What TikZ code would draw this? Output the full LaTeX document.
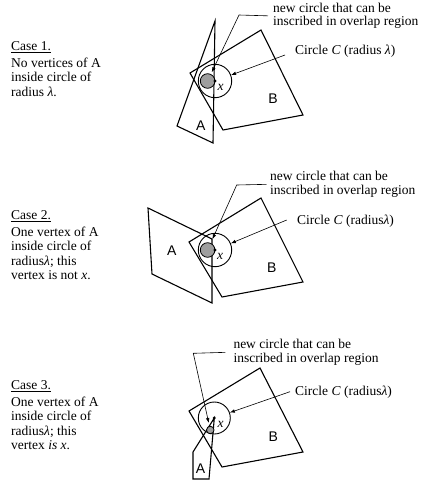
\documentclass[tikz,border=0pt]{standalone}
\usepackage{fontspec}
\setmainfont{Liberation Serif}
\newfontfamily\sansfont{Liberation Sans}
\usetikzlibrary{arrows.meta}

\begin{document}
\begin{tikzpicture}[x=1pt,y=-1pt,
  poly/.style={line width=1.1pt,line join=miter},
  ring/.style={draw,circle,line width=0.9pt,minimum size=33.4pt,inner sep=0pt},
  spot/.style={draw,circle,fill=black!38,line width=0.8pt,inner sep=0pt},
  dot/.style={circle,fill=black,inner sep=0pt,minimum size=3.2pt},
  lead/.style={-{Latex[length=5pt,width=3.6pt]},line width=0.6pt},
  case/.style={anchor=north west,align=left,inner sep=0pt,font=\fontsize{13.5}{14.3}\selectfont},
  note/.style={anchor=north west,align=left,inner sep=0pt,font=\fontsize{13.5}{13.4}\selectfont},
  cname/.style={anchor=base west,inner sep=0pt,font=\fontsize{13.5}{14}\selectfont},
  plbl/.style={font=\sansfont\fontsize{14}{14}\selectfont,inner sep=0pt},
  xlbl/.style={font=\fontsize{13.5}{14}\selectfont\itshape,inner sep=0pt}
]
  \useasboundingbox (0,0) rectangle (427,480);

  % case 1
  \draw[poly] (215,21) -- (177,126) -- (213,143) -- cycle;
  \draw[poly] (261,30) -- (303,115) -- (223,130) -- (190,73) -- cycle;
  \node[ring] (C1) at (215,81) {};
  \node[spot,minimum size=14.6pt] (new1) at (207.6,81) {};
  \node[dot] (x1) at (215,81) {};
  \node[xlbl] (xl1) at (220.5,87.5) {x};
  \node[plbl] (A1) at (200.7,126) {A};
  \node[plbl] (B1) at (273,99) {B};
  \node[case] (case1) at (11,41)
    {\underline{Case 1.}\\[3pt]No vertices of A\\inside circle of\\radius \textit{λ}.};
  \node[note] (note1) at (273,2.8) {new circle that can be\\inscribed in overlap region};
  \node[cname] (cn1) at (295,54) {Circle \textit{C} (radius \textit{λ})};
  \coordinate (k1) at (239,15);
  \coordinate (s1) at (285,55);
  \draw[lead,shorten >=2pt] ([xshift=-5pt]note1.west) -- (k1) -- (new1);
  \draw[lead] (s1) -- (C1);

  % case 2
  \draw[poly] (148,208) -- (152,274) -- (212,303) -- (212,239) -- cycle;
  \draw[poly] (261,198) -- (303,282) -- (222,297) -- (189,242) -- cycle;
  \node[ring] (C2) at (215,250) {};
  \node[spot,minimum size=14.6pt] (new2) at (207.6,250) {};
  \node[dot] (x2) at (215,250) {};
  \node[xlbl] (xl2) at (220,256) {x};
  \node[plbl] (A2) at (171.7,250.7) {A};
  \node[plbl] (B2) at (271.7,267.3) {B};
  \node[case] (case2) at (11,210)
    {\underline{Case 2.}\\[3pt]One vertex of A\\inside circle of\\radius\textit{λ}; this\\vertex is not \textit{x}.};
  \node[note] (note2) at (270,171.3) {new circle that can be\\inscribed in overlap region};
  \node[cname] (cn2) at (297,224) {Circle \textit{C} (radius\textit{λ})};
  \coordinate (k2) at (236.7,185);
  \coordinate (s2) at (286.7,220);
  \draw[lead,shorten >=4pt] ([xshift=-3.5pt]note2.west) -- (k2) -- (new2);
  \draw[lead] (s2) -- (C2);

  % case 3
  \draw[poly] (214.3,418) -- (193,452) -- (193,479) -- (209,479) -- cycle;
  \draw[poly] (260,368) -- (303,452) -- (222,467) -- (189,411) -- cycle;
  \node[ring,minimum size=32pt] (C3) at (214.3,418) {};
  \node[spot,minimum size=7.5pt] (new3) at (210.3,430) {};
  \node[dot] (x3) at (214.3,418) {};
  \node[xlbl] (xl3) at (220.5,424) {x};
  \node[plbl] (A3) at (200.5,469) {A};
  \node[plbl] (B3) at (273.3,436.7) {B};
  \node[case] (case3) at (11,380)
    {\underline{Case 3.}\\[3pt]One vertex of A\\inside circle of\\radius\textit{λ}; this\\vertex \textit{is x}.};
  \node[note] (note3) at (233.3,339.3) {new circle that can be\\inscribed in overlap region};
  \node[cname] (cn3) at (295,395) {Circle \textit{C} (radius\textit{λ})};
  \coordinate (k3) at (193.3,353.3);
  \coordinate (s3) at (290,391.7);
  \draw[lead,shorten >=3pt] ([xshift=-8pt]note3.west) -- (k3) -- (new3);
  \draw[lead] (s3) -- (C3);
\end{tikzpicture}
\end{document}
